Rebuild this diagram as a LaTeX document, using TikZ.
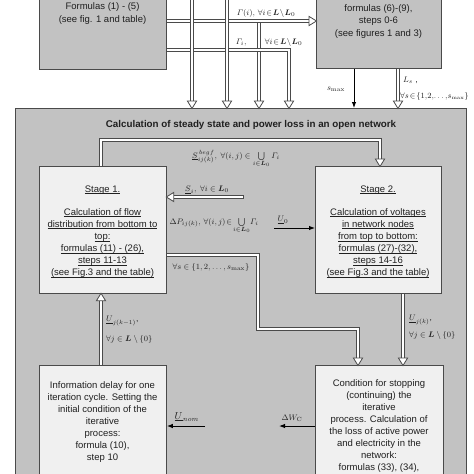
\documentclass[tikz,border=0pt]{standalone}
\usepackage[no-math]{fontspec}
\setmainfont{Liberation Sans}
\usepackage{amsmath}
\usetikzlibrary{arrows.meta}
\definecolor{boxgray}{HTML}{C2C2C2}
\definecolor{stagefill}{HTML}{F0F0F0}
\definecolor{edge}{HTML}{4A4A4A}
\definecolor{ink}{HTML}{202020}
\newcommand\myul[1]{\setbox0\hbox{#1}\rlap{\rule[-1.7pt]{\wd0}{0.5pt}}\box0}
\tikzset{
  graybox/.style={draw=edge, line width=0.8pt, fill=boxgray, inner sep=0pt, anchor=north west},
  lightbox/.style={draw=edge, line width=0.8pt, fill=stagefill, inner sep=0pt, anchor=north west},
  txt/.style={align=center, text=ink, inner sep=0pt, font=\fontsize{9.5}{12.1}\selectfont},
  lbl/.style={text=ink, inner sep=0pt, font=\fontsize{8.5}{10}\selectfont},
  pipe/.style={draw=edge, line width=0.8pt, double=white, double distance=2.8pt, line join=miter},
  arr/.style={draw=black, line width=1pt, -{Latex[length=6pt,width=4.5pt]}},
  htip/.pic={\filldraw[fill=white, draw=edge, line width=0.8pt, line join=miter] (0.5,0) -- (-7,4.6) -- (-7,-4.6) -- cycle;}
}
\begin{document}
\begin{tikzpicture}[x=1pt,y=-1pt]
\useasboundingbox (0,0) rectangle (474,474);
\clip (0,0) rectangle (474,474);
\fill[white] (0,0) rectangle (474,474);

% top boxes
\node[graybox, minimum width=127pt, minimum height=129pt] (TL) at (39,-60) {};
\node[graybox, minimum width=125pt, minimum height=128pt] (TR) at (316,-60) {};
\node[txt] (TLt) at (102.5,13.5) {Formulas (1) - (5)\\(see fig. 1 and table)};
\node[txt] (TRt) at (378.5,21.5) {formulas (6)-(9),\\steps 0-6\\(see figures 1 and 3)};

% big box
\node[graybox, minimum width=451pt, minimum height=420pt] (B) at (15,108) {};
\node[txt, font=\fontsize{9.8}{12}\bfseries] (title) at (251,124.5) {Calculation of steady state and power loss in an open network};

% inner boxes
\node[lightbox, minimum width=127pt, minimum height=127pt] (S1) at (39,166) {};
\node[lightbox, minimum width=126pt, minimum height=127pt] (S2) at (315,166) {};
\node[lightbox, minimum width=127pt, minimum height=160pt] (INF) at (39,365) {};
\node[lightbox, minimum width=128pt, minimum height=160pt] (COND) at (315,365) {};

\node[txt] (S1t) at (102.5,231.5) {\myul{Stage 1.}\\[11pt]\myul{Calculation of flow}\\\myul{distribution from bottom to}\\\myul{top:}\\\myul{formulas (11) - (26),}\\\myul{steps 11-13}\\\myul{(see Fig.3 and the table)}};
\node[txt] (S2t) at (378,231.5) {\myul{Stage 2.}\\[11pt]\myul{Calculation of voltages}\\\myul{in network nodes}\\\myul{from top to bottom:}\\\myul{formulas (27)-(32),}\\\myul{steps 14-16}\\\myul{(see Fig.3 and the table)}};
\node[txt, anchor=north] (INFt) at (102.5,381) {Information delay for one\\iteration cycle. Setting the\\initial condition of the\\iterative\\process:\\formula (10),\\step 10};
\node[txt, anchor=north] (CONDt) at (379,379) {Condition for stopping\\(continuing) the\\iterative\\process. Calculation of\\the loss of active power\\and electricity in the\\network:\\formulas (33), (34),};

% top pipes
\coordinate (h1) at (0,21);
\coordinate (h2) at (289,50);
\coordinate (v3) at (259,21);
\coordinate (v1) at (192,-5);
\coordinate (v2) at (227,-5);
\coordinate (smx) at (354,0);
\coordinate (lsx) at (398,0);
\draw[pipe, shorten >=6pt] (v3) -- (v3 |- B.north);
\draw[pipe, shorten >=6pt] (TL.east |- h1) -- (TR.west |- h1);
\draw[pipe, shorten >=6pt] (TL.east |- h2) -- (h2) -- (h2 |- B.north);
\draw[pipe, shorten >=6pt] (v1) -- (v1 |- B.north);
\draw[pipe, shorten >=6pt] (v2) -- (v2 |- B.north);
\pic at (TR.west |- h1) {htip};
\pic[rotate=-90] at (v1 |- B.north) {htip};
\pic[rotate=-90] at (v2 |- B.north) {htip};
\pic[rotate=-90] at (v3 |- B.north) {htip};
\pic[rotate=-90] at (h2 |- B.north) {htip};
\draw[arr] (TR.south -| smx) -- (smx |- B.north);
\draw[pipe, shorten >=6pt] (TR.south -| lsx) -- (lsx |- B.north);
\pic[rotate=-90] at (lsx |- B.north) {htip};

\node[lbl] (g1) at (266,13) {$\varGamma(i),\,\forall i\!\in\! \boldsymbol{L}\!\setminus\! \boldsymbol{L}_0$};
\node[lbl] (g2) at (269,42) {$\varGamma_i,\qquad\forall i\!\in\! \boldsymbol{L}\!\setminus\! \boldsymbol{L}_0$};
\node[lbl] (sm) at (336,89) {$s_{\max}$};
\node[lbl, anchor=west] (ls1) at (403,80) {$L_s$ ,};
\node[lbl, anchor=west, font=\fontsize{7.6}{10}\selectfont] (ls2) at (400,96) {$\forall s\!\in\!\{1,\!2,\!\ldots,\!s_{\max}\}$};

% inner connectors
\coordinate (fb1) at (101,140);
\coordinate (fb2) at (380,140);
\draw[pipe, shorten >=6pt] (S1.north -| fb1) -- (fb1) -- (fb2) -- (S2.north -| fb2);
\pic[rotate=-90] at (S2.north -| fb2) {htip};

\coordinate (si) at (242,197);
\draw[pipe, line cap=rect, shorten >=6pt] (si) -- (S1.east |- si);
\pic[rotate=180] at (S1.east |- si) {htip};

\coordinate (dp1) at (258,255);
\coordinate (dp2) at (358,329);
\draw[pipe, shorten >=6pt] (S1.east |- dp1) -- (dp1) -- (dp1 |- dp2) -- (dp2) -- (dp2 |- COND.north);
\pic[rotate=-90] at (dp2 |- COND.north) {htip};

\coordinate (u0) at (274,228);
\draw[arr] (u0) -- (S2.west |- u0);

\coordinate (s2d) at (403,0);
\draw[pipe, shorten >=6pt] (S2.south -| s2d) -- (COND.north -| s2d);
\pic[rotate=-90] at (COND.north -| s2d) {htip};

\coordinate (s1u) at (101,0);
\draw[pipe, shorten >=6pt] (INF.north -| s1u) -- (S1.south -| s1u);
\pic[rotate=90] at (S1.south -| s1u) {htip};

\coordinate (un) at (205,426);
\draw[arr] (un) -- (INF.east |- un);
\coordinate (dw) at (279,426);
\draw[arr] (COND.west |- dw) -- (dw);

% inner labels
\node[lbl, anchor=base] (lS) at (236,158) {$\underline{S}^{\,begf}_{ij(k)},\ \forall(i,j)\in\bigcup\limits_{i\in \boldsymbol{L}_0}\varGamma_i$};
\node[lbl] (lSi) at (207,190) {$\underline{S}_i,\ \forall i\in \boldsymbol{L}_0$};
\node[lbl, anchor=base] (lP) at (214,224) {$\Delta P_{ij(k)},\,\forall(i,j)\!\in\!\bigcup\limits_{i\in \boldsymbol{L}_0}\!\varGamma_i$};
\node[lbl] (lfs) at (211,267) {$\forall s\in\{1,2,\ldots,s_{\max}\}$};
\node[lbl] (lU0) at (283,220) {$\underline{U}_0$};
\node[lbl, anchor=west] (lUj1) at (409,320) {$\underline{U}_{j(k)}$,};
\node[lbl, anchor=west] (lUj2) at (409,335) {$\forall j\in \boldsymbol{L}\setminus\{0\}$};
\node[lbl, anchor=west] (lUk1) at (106,321) {$\underline{U}_{j(k-1)}$,};
\node[lbl, anchor=west] (lUk2) at (106,339) {$\forall j\in \boldsymbol{L}\setminus\{0\}$};
\node[lbl, font=\fontsize{10}{12}\selectfont] (lUn) at (187,417) {$\underline{U}_{\mathit{nom}}$};
\node[lbl] (lW) at (292,418) {$\Delta W_{\mathrm{C}}$};
\end{tikzpicture}
\end{document}
